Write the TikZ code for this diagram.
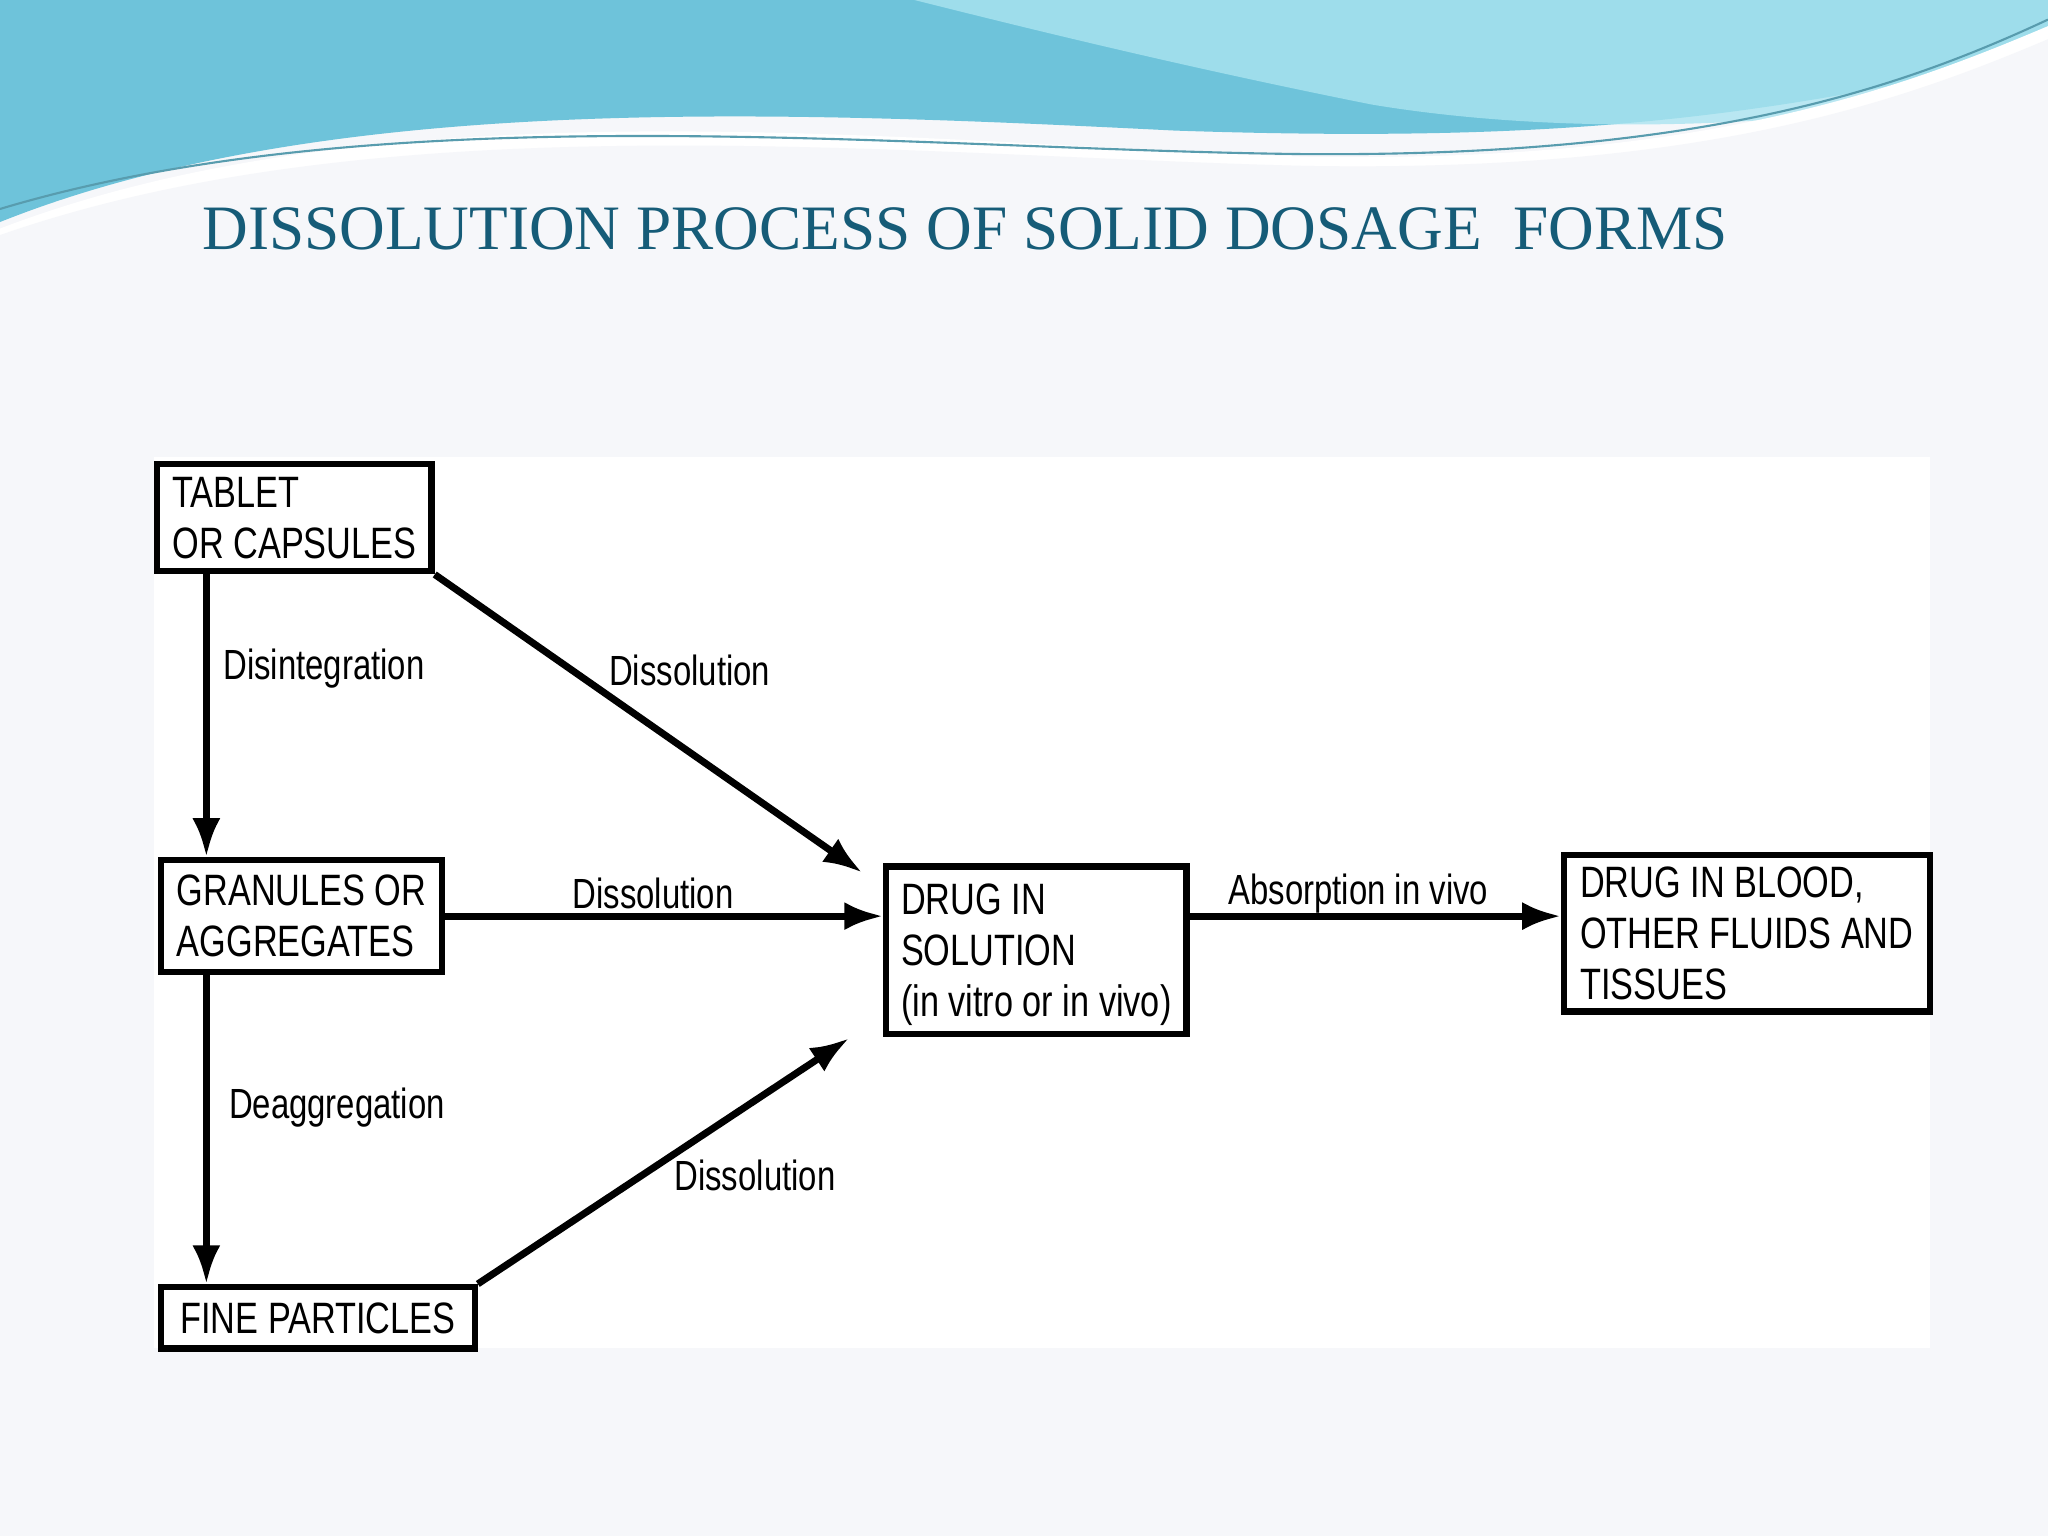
\documentclass[tikz,border=0pt]{standalone}
\usepackage{fontspec}
\setmainfont{Liberation Serif}
\setsansfont{Liberation Sans}
\newfontfamily\narrowsans[FakeStretch=0.78]{Liberation Sans}
\usetikzlibrary{arrows.meta}
\definecolor{titleteal}{RGB}{22,92,120}
\definecolor{wavedark}{RGB}{110,195,218}
\definecolor{wavelight}{RGB}{170,228,240}
\definecolor{pagebg}{RGB}{246,247,250}
\tikzset{
  stage/.style={draw, line width=1.8pt, anchor=north west, align=left, inner sep=3pt,
    font=\narrowsans\fontsize{12.5}{14.5}\selectfont, text depth=0pt},
  flow/.style={-{Latex[length=11pt,width=8pt]}, line width=2pt},
  steplabel/.style={font=\narrowsans\fontsize{12}{14}\selectfont}
}
\begin{document}
\begin{tikzpicture}[x=0.01306cm, y=-0.01306cm]
	\useasboundingbox (0,0) rectangle (1568,1176);
	\fill[pagebg] (0,0) rectangle (1568,1176);
	
	% header waves
	\fill[wavedark] (0,0) -- (1568,0) -- (1568,40) .. controls (1350,90) and (1200,110) .. (900,100)
		.. controls (600,85) and (250,70) .. (0,170) -- cycle;
	\fill[wavelight, opacity=.8] (700,0) -- (1568,0) -- (1568,60) .. controls (1400,100) and (1200,105) .. (1050,80)
		.. controls (900,50) and (780,20) .. (700,0) -- cycle;
	\fill[white] (0,175) .. controls (300,60) and (700,110) .. (1000,120)
		.. controls (1300,125) and (1450,70) .. (1568,20) -- (1568,1176) -- (0,1176) -- cycle;
	\fill[pagebg] (0,180) .. controls (300,75) and (700,120) .. (1000,127)
		.. controls (1300,132) and (1450,80) .. (1568,30) -- (1568,1176) -- (0,1176) -- cycle;
	\draw[wavedark!80!black, line width=0.6pt] (0,160) .. controls (300,70) and (700,115) .. (1000,118)
		.. controls (1300,120) and (1450,70) .. (1568,15);
	
	\node[titleteal, font=\fontsize{18}{21}\selectfont] (title) at (739,175) {DISSOLUTION PROCESS OF SOLID DOSAGE\ \ FORMS};
	
	\fill[white] (118,350) rectangle (1478,1032);
	
	\node[stage, minimum width=210*0.01306cm, minimum height=82*0.01306cm] (tablet) at (118,353) {TABLET\\OR CAPSULES};
	\node[stage, minimum width=215*0.01306cm, minimum height=86*0.01306cm] (granules) at (121,656) {GRANULES OR\\AGGREGATES};
	\node[stage, minimum width=240*0.01306cm, minimum height=47*0.01306cm] (fine) at (121,983) {FINE PARTICLES};
	\node[stage, minimum width=230*0.01306cm, minimum height=128*0.01306cm] (solution) at (676,661) {DRUG IN\\SOLUTION\\(in vitro or in vivo)};
	\node[stage, minimum width=280*0.01306cm, minimum height=120*0.01306cm] (blood) at (1195,652) {DRUG IN BLOOD,\\OTHER FLUIDS AND\\TISSUES};
	
	\coordinate (solA) at (660,668);
	\coordinate (solB) at (650,795);
	
	\draw[flow] (tablet.south west -| 158,0) -- (granules.north west -| 158,0);
	\draw[flow] (tablet.south east) -- (solA);
	\draw[flow] (granules.east) -- (solution.west |- granules.east);
	\draw[flow] (granules.south west -| 158,0) -- (fine.north west -| 158,0);
	\draw[flow] (fine.north east) -- (solB);
	\draw[flow] (solution.east |- granules.east) -- (blood.west |- granules.east);
	
	\node[steplabel] (l1) at (248,512) {Disintegration};
	\node[steplabel] (l2) at (528,513) {Dissolution};
	\node[steplabel] (l3) at (500,684) {Dissolution};
	\node[steplabel] (l4) at (258,848) {Deaggregation};
	\node[steplabel] (l5) at (578,900) {Dissolution};
	\node[steplabel] (l6) at (1040,684) {Absorption in vivo};
\end{tikzpicture}
\end{document}
